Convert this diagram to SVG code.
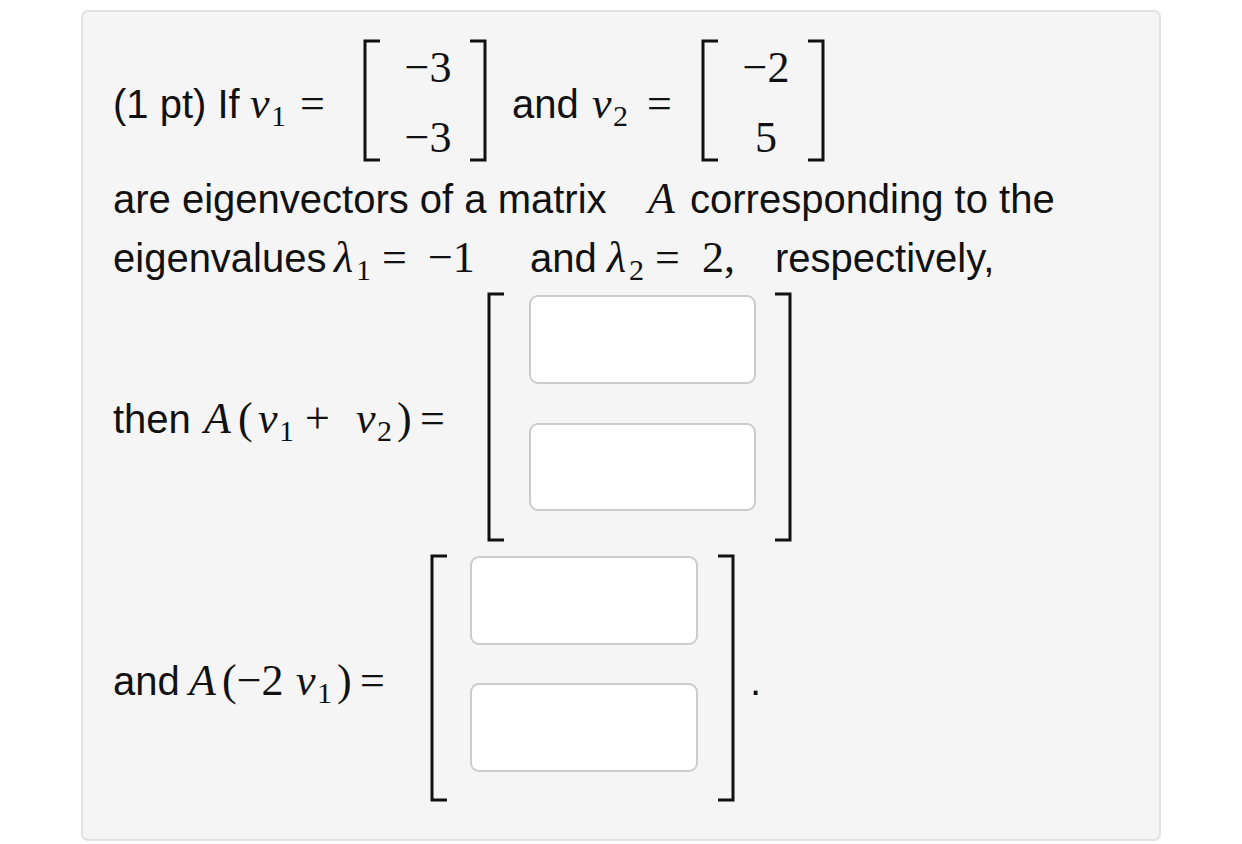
<svg xmlns="http://www.w3.org/2000/svg" width="1242" height="844" viewBox="0 0 1242 844">
<style>
.s{font-family:"Liberation Sans",Arial,sans-serif;font-size:40px;fill:#111}
.m{font-family:"Liberation Serif","Times New Roman",serif;font-size:44px;fill:#111}
.i{font-style:italic}
.sub{font-family:"Liberation Serif",serif;font-size:30px;fill:#111}
.br{fill:none;stroke:#111;stroke-width:3}
.box{fill:#fff;stroke:#ccc;stroke-width:2}
</style>
<rect x="0" y="0" width="1242" height="844" fill="#fff"/>
<rect x="82" y="11" width="1078" height="829" rx="6" fill="#f5f5f5" stroke="#e2e2e2" stroke-width="2"/>
<text class="s" x="113" y="118">(1 pt) If</text>
<text class="m i" x="250" y="118">v</text><text class="sub" x="271" y="126">1</text>
<text class="m" x="300" y="118">=</text>
<path class="br" d="M380 41 H365 V160 H380 M470 41 H485 V160 H470"/>
<text class="m" x="428" y="82" text-anchor="middle">−3</text>
<text class="m" x="428" y="152" text-anchor="middle">−3</text>
<text class="s" x="512" y="118">and</text>
<text class="m i" x="592" y="118">v</text><text class="sub" x="613" y="126">2</text>
<text class="m" x="647" y="118">=</text>
<path class="br" d="M718 41 H703 V160 H718 M808 41 H823 V160 H808"/>
<text class="m" x="766" y="82" text-anchor="middle">−2</text>
<text class="m" x="766" y="152" text-anchor="middle">5</text>
<text class="s" x="113" y="213">are eigenvectors of a matrix</text>
<text class="m i" x="648" y="213">A</text>
<text class="s" x="690" y="213">corresponding to the</text>
<text class="s" x="113" y="272">eigenvalues</text>
<text class="m i" x="334" y="272">λ</text><text class="sub" x="356" y="280">1</text>
<text class="m" x="382" y="272">=</text>
<text class="m" x="428" y="272">−1</text>
<text class="s" x="530" y="272">and</text>
<text class="m i" x="607" y="272">λ</text><text class="sub" x="629" y="280">2</text>
<text class="m" x="655" y="272">=</text>
<text class="m" x="702" y="272">2,</text>
<text class="s" x="775" y="272">respectively,</text>
<g id="eq1">
<text class="s" x="113" y="433">then</text>
<text class="m i" x="204" y="433">A</text>
<text class="m" x="238" y="433">(</text>
<text class="m i" x="258" y="433">v</text><text class="sub" x="279" y="441">1</text>
<text class="m" x="305" y="433">+</text>
<text class="m i" x="356" y="433">v</text><text class="sub" x="377" y="441">2</text>
<text class="m" x="397" y="433">)</text>
<text class="m" x="420" y="433">=</text>
<path class="br" d="M504 294 H489 V540 H504 M775 294 H790 V540 H775"/>
<rect class="box" x="530" y="296" width="225" height="87" rx="8"/>
<rect class="box" x="530" y="424" width="225" height="86" rx="8"/>
</g>
<g id="eq2">
<text class="s" x="113" y="695">and</text>
<text class="m i" x="189" y="695">A</text>
<text class="m" x="222" y="695">(−2</text>
<text class="m i" x="296" y="695">v</text><text class="sub" x="317" y="703">1</text>
<text class="m" x="337" y="695">)</text>
<text class="m" x="360" y="695">=</text>
<path class="br" d="M447 556 H432 V800 H447 M718 556 H733 V800 H718"/>
<rect class="box" x="471" y="557" width="226" height="87" rx="8"/>
<rect class="box" x="471" y="684" width="226" height="87" rx="8"/>
<text class="s" x="750" y="695">.</text>
</g>
</svg>
